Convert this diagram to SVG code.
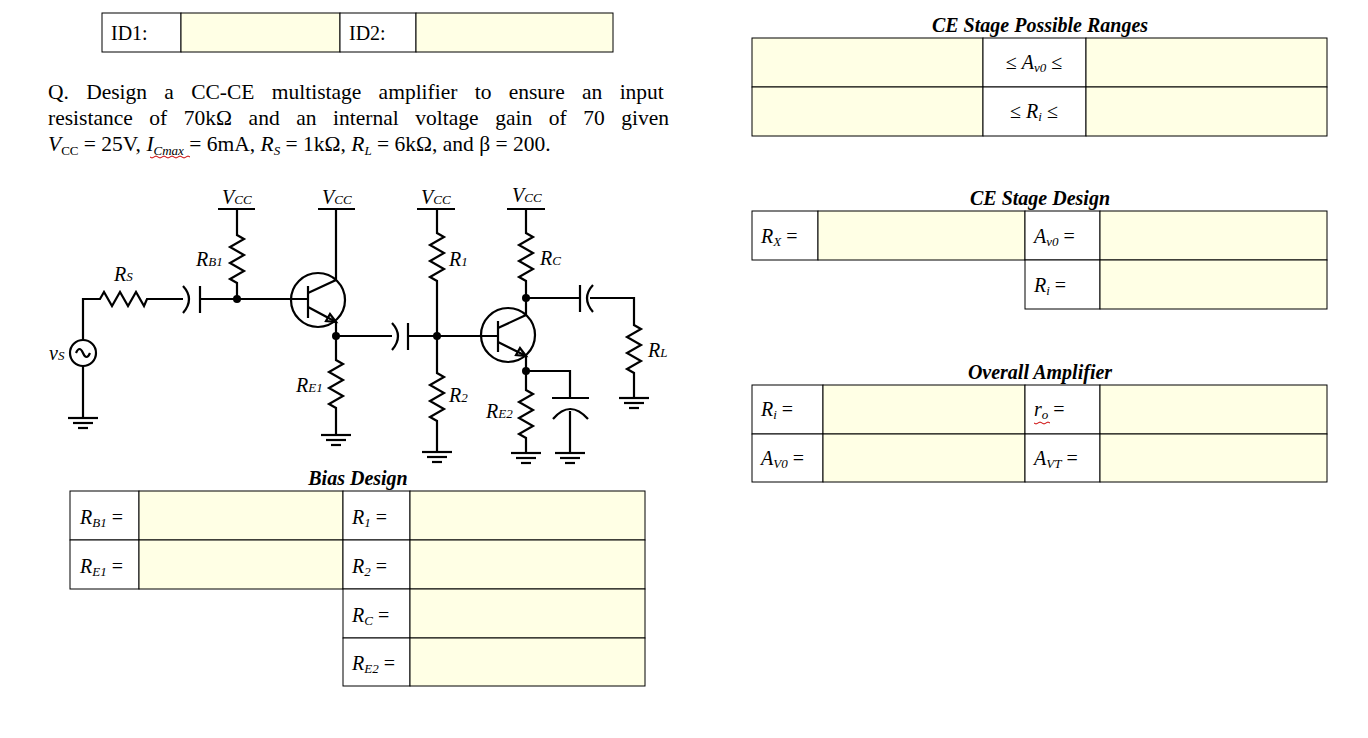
<svg xmlns="http://www.w3.org/2000/svg" width="1368" height="738" viewBox="0 0 1368 738">
<style>
text{font-family:"Liberation Serif","DejaVu Serif",serif;font-size:20px;fill:#000}
.q{font-size:21.5px}
.i{font-style:italic}
.s{font-size:13px}
.t{font-style:italic;font-weight:bold;font-size:20px}
.y{fill:#FFFFE5;stroke:#000;stroke-width:1}
.w{fill:#fff;stroke:#000;stroke-width:1}
.c path,.c line,.c circle,.c polyline{fill:none;stroke:#000;stroke-width:2.2}
.d{fill:#000}
</style>
<rect width="1368" height="738" fill="#fff"/>
<g id="id-table">
<rect class="w" x="102" y="13" width="79" height="39"/><rect class="y" x="181" y="13" width="159" height="39"/>
<rect class="w" x="340" y="13" width="76" height="39"/><rect class="y" x="416" y="13" width="197" height="39"/>
<text x="111" y="40">ID1:</text><text x="349" y="40">ID2:</text>
</g>
<g id="question">
<text class="q" x="48" y="99" word-spacing="11.9">Q. Design a CC-CE multistage amplifier to ensure an input</text>
<text class="q" x="48" y="125" word-spacing="11.2">resistance of 70kΩ and an internal voltage gain of 70 given</text>
<text class="q" x="48" y="151"><tspan class="i">V</tspan><tspan class="s" dy="4">CC</tspan><tspan dy="-4"> = 25V, </tspan><tspan class="i">I</tspan><tspan class="s i" dy="4">Cmax</tspan><tspan dy="-4"> = 6mA, </tspan><tspan class="i">R</tspan><tspan class="s i" dy="4">S</tspan><tspan dy="-4"> = 1kΩ, </tspan><tspan class="i">R</tspan><tspan class="s i" dy="4">L</tspan><tspan dy="-4"> = 6kΩ, and β = 200.</tspan></text>
<path d="M150 157 q2 2 4 0 t4 0 t4 0 t4 0 t4 0 t4 0 t4 0 t4 0 t4 0 t4 0" fill="none" stroke="#c00" stroke-width="1"/>
</g>
<g id="circuit" class="c">
<circle cx="83" cy="353" r="13"/>
<path d="M76 353 q3.5 -8 7 0 t7 0"/>
<polyline points="83,340 83,299 100,299 104,292 112,306 120,292 128,306 136,292 144,306 147,299 183,299"/>
<line x1="83" y1="366" x2="83" y2="418"/>
<line x1="68" y1="418" x2="98" y2="418"/><line x1="73" y1="423" x2="93" y2="423"/><line x1="78" y1="428" x2="88" y2="428"/>
<path d="M183 286 q12 13 0 27"/>
<line x1="200" y1="286" x2="200" y2="313"/>
<line x1="200" y1="299" x2="308" y2="299"/>
<line x1="218" y1="209" x2="255" y2="209"/>
<polyline points="237,209 237,235 244,239 230,247 244,255 230,263 244,271 230,279 237,283 237,299"/>
<circle cx="318" cy="300" r="27"/>
<line x1="308" y1="286" x2="308" y2="318"/>
<polyline points="308,293 336,280 336,209"/>
<line x1="318" y1="209" x2="355" y2="209"/>
<polyline points="308,307 336,322 336,360 343,364 329,372 343,380 329,388 343,396 329,404 336,408 336,435"/>
<path d="M336 322 l-10 -1 l4 -7 z" class="d"/>
<line x1="336" y1="336" x2="392" y2="336"/>
<line x1="321" y1="435" x2="351" y2="435"/><line x1="326" y1="440" x2="346" y2="440"/><line x1="331" y1="445" x2="341" y2="445"/>
<path d="M392 323 q12 13 0 27"/>
<line x1="408" y1="323" x2="408" y2="350"/>
<line x1="408" y1="336" x2="498" y2="336"/>
<line x1="417" y1="209" x2="455" y2="209"/>
<polyline points="437,209 437,233 444,237 430,245 444,253 430,261 444,269 430,277 437,281 437,373 444,377 430,385 444,393 430,401 444,409 430,417 437,421 437,452"/>
<line x1="422" y1="452" x2="452" y2="452"/><line x1="427" y1="457" x2="447" y2="457"/><line x1="432" y1="462" x2="442" y2="462"/>
<circle cx="508" cy="335" r="27"/>
<line x1="498" y1="321" x2="498" y2="352"/>
<polyline points="498,328 526,315 526,298"/>
<line x1="507" y1="209" x2="545" y2="209"/>
<polyline points="526,209 526,233 533,237 519,245 533,253 519,261 533,269 519,277 526,281 526,298"/>
<polyline points="498,342 526,356 526,390 533,394 519,402 533,410 519,418 533,426 519,434 526,438 526,453"/>
<path d="M526 356 l-10 -1 l4 -7 z" class="d"/>
<line x1="511" y1="453" x2="541" y2="453"/><line x1="516" y1="458" x2="536" y2="458"/><line x1="521" y1="463" x2="531" y2="463"/>
<polyline points="526,371 570,371 570,398"/>
<line x1="552" y1="398" x2="589" y2="398"/>
<path d="M553 419 q17 -20 35 0"/>
<line x1="570" y1="411" x2="570" y2="453"/>
<line x1="555" y1="453" x2="585" y2="453"/><line x1="560" y1="458" x2="580" y2="458"/><line x1="565" y1="463" x2="575" y2="463"/>
<line x1="526" y1="298" x2="580" y2="298"/>
<line x1="580" y1="285" x2="580" y2="312"/>
<path d="M593 285 q-12 13 0 27"/>
<polyline points="590,298 634,298 634,325 641,329 627,337 641,345 627,353 641,361 627,369 634,373 634,398"/>
<line x1="619" y1="398" x2="649" y2="398"/><line x1="624" y1="403" x2="644" y2="403"/><line x1="629" y1="408" x2="639" y2="408"/>
</g>
<g id="nodes">
<circle class="d" cx="237" cy="299" r="4"/><circle class="d" cx="336" cy="336" r="4"/>
<circle class="d" cx="437" cy="336" r="4"/><circle class="d" cx="526" cy="298" r="4"/><circle class="d" cx="526" cy="371" r="4"/>
</g>
<g id="circuit-labels">
<text x="222" y="204" class="i" font-size="18">V<tspan class="s">CC</tspan></text>
<text x="322" y="204" class="i" font-size="18">V<tspan class="s">CC</tspan></text>
<text x="421" y="204" class="i" font-size="18">V<tspan class="s">CC</tspan></text>
<text x="512" y="202" class="i" font-size="18">V<tspan class="s">CC</tspan></text>
<text x="196" y="266" class="i" font-size="18">R<tspan class="s">B1</tspan></text>
<text x="114" y="281" class="i" font-size="18">R<tspan class="s">S</tspan></text>
<text x="49" y="360" class="i" font-size="18">v<tspan class="s">S</tspan></text>
<text x="296" y="392" class="i" font-size="18">R<tspan class="s">E1</tspan></text>
<text x="449" y="266" class="i" font-size="18">R<tspan class="s">1</tspan></text>
<text x="449" y="402" class="i" font-size="18">R<tspan class="s">2</tspan></text>
<text x="540" y="265" class="i" font-size="18">R<tspan class="s">C</tspan></text>
<text x="486" y="418" class="i" font-size="18">R<tspan class="s">E2</tspan></text>
<text x="648" y="357" class="i" font-size="18">R<tspan class="s">L</tspan></text>
</g>
<g id="bias-design">
<text x="358" y="485" class="t" text-anchor="middle">Bias Design</text>
<rect class="w" x="70" y="491" width="69" height="49"/><rect class="y" x="139" y="491" width="204" height="49"/>
<rect class="w" x="343" y="491" width="67" height="49"/><rect class="y" x="410" y="491" width="235" height="49"/>
<rect class="w" x="70" y="540" width="69" height="49"/><rect class="y" x="139" y="540" width="204" height="49"/>
<rect class="w" x="343" y="540" width="67" height="49"/><rect class="y" x="410" y="540" width="235" height="49"/>
<rect class="w" x="343" y="589" width="67" height="49"/><rect class="y" x="410" y="589" width="235" height="49"/>
<rect class="w" x="343" y="638" width="67" height="48"/><rect class="y" x="410" y="638" width="235" height="48"/>
<text x="80" y="524"><tspan class="i">R</tspan><tspan class="s i" dy="3">B1</tspan><tspan dy="-3"> =</tspan></text>
<text x="80" y="573"><tspan class="i">R</tspan><tspan class="s i" dy="3">E1</tspan><tspan dy="-3"> =</tspan></text>
<text x="352" y="524"><tspan class="i">R</tspan><tspan class="s i" dy="3">1</tspan><tspan dy="-3"> =</tspan></text>
<text x="352" y="573"><tspan class="i">R</tspan><tspan class="s i" dy="3">2</tspan><tspan dy="-3"> =</tspan></text>
<text x="352" y="622"><tspan class="i">R</tspan><tspan class="s i" dy="3">C</tspan><tspan dy="-3"> =</tspan></text>
<text x="352" y="670"><tspan class="i">R</tspan><tspan class="s i" dy="3">E2</tspan><tspan dy="-3"> =</tspan></text>
</g>
<g id="ce-ranges">
<text x="1040" y="32" class="t" text-anchor="middle">CE Stage Possible Ranges</text>
<rect class="y" x="752" y="38" width="231" height="49"/><rect class="w" x="983" y="38" width="103" height="49"/><rect class="y" x="1086" y="38" width="241" height="49"/>
<rect class="y" x="752" y="87" width="231" height="49"/><rect class="w" x="983" y="87" width="103" height="49"/><rect class="y" x="1086" y="87" width="241" height="49"/>
<text x="1034" y="69" text-anchor="middle">≤ <tspan class="i">A</tspan><tspan class="s i" dy="3">v0</tspan><tspan dy="-3"> ≤</tspan></text>
<text x="1034" y="118" text-anchor="middle">≤  <tspan class="i">R</tspan><tspan class="s i" dy="3">i</tspan><tspan dy="-3">  ≤</tspan></text>
</g>
<g id="ce-design">
<text x="1040" y="205" class="t" text-anchor="middle">CE Stage Design</text>
<rect class="w" x="752" y="211" width="66" height="49"/><rect class="y" x="818" y="211" width="207" height="49"/>
<rect class="w" x="1025" y="211" width="75" height="49"/><rect class="y" x="1100" y="211" width="227" height="49"/>
<rect class="w" x="1025" y="260" width="75" height="49"/><rect class="y" x="1100" y="260" width="227" height="49"/>
<text x="761" y="243"><tspan class="i">R</tspan><tspan class="s i" dy="3">X</tspan><tspan dy="-3"> =</tspan></text>
<text x="1034" y="243"><tspan class="i">A</tspan><tspan class="s i" dy="3">v0</tspan><tspan dy="-3"> =</tspan></text>
<text x="1034" y="292"><tspan class="i">R</tspan><tspan class="s i" dy="3">i</tspan><tspan dy="-3"> =</tspan></text>
</g>
<g id="overall">
<text x="1040" y="379" class="t" text-anchor="middle">Overall Amplifier</text>
<rect class="w" x="752" y="385" width="71" height="49"/><rect class="y" x="823" y="385" width="202" height="49"/>
<rect class="w" x="1025" y="385" width="75" height="49"/><rect class="y" x="1100" y="385" width="227" height="49"/>
<rect class="w" x="752" y="434" width="71" height="48"/><rect class="y" x="823" y="434" width="202" height="48"/>
<rect class="w" x="1025" y="434" width="75" height="48"/><rect class="y" x="1100" y="434" width="227" height="48"/>
<text x="761" y="416"><tspan class="i">R</tspan><tspan class="s i" dy="3">i</tspan><tspan dy="-3"> =</tspan></text>
<text x="1034" y="416"><tspan class="i">r</tspan><tspan class="s i" dy="3">o</tspan><tspan dy="-3"> =</tspan></text>
<path d="M1034 423 q2 2 4 0 t4 0 t4 0 t4 0" fill="none" stroke="#c00" stroke-width="1"/>
<text x="761" y="465"><tspan class="i">A</tspan><tspan class="s i" dy="3">V0</tspan><tspan dy="-3"> =</tspan></text>
<text x="1034" y="465"><tspan class="i">A</tspan><tspan class="s i" dy="3">VT</tspan><tspan dy="-3"> =</tspan></text>
</g>
</svg>
